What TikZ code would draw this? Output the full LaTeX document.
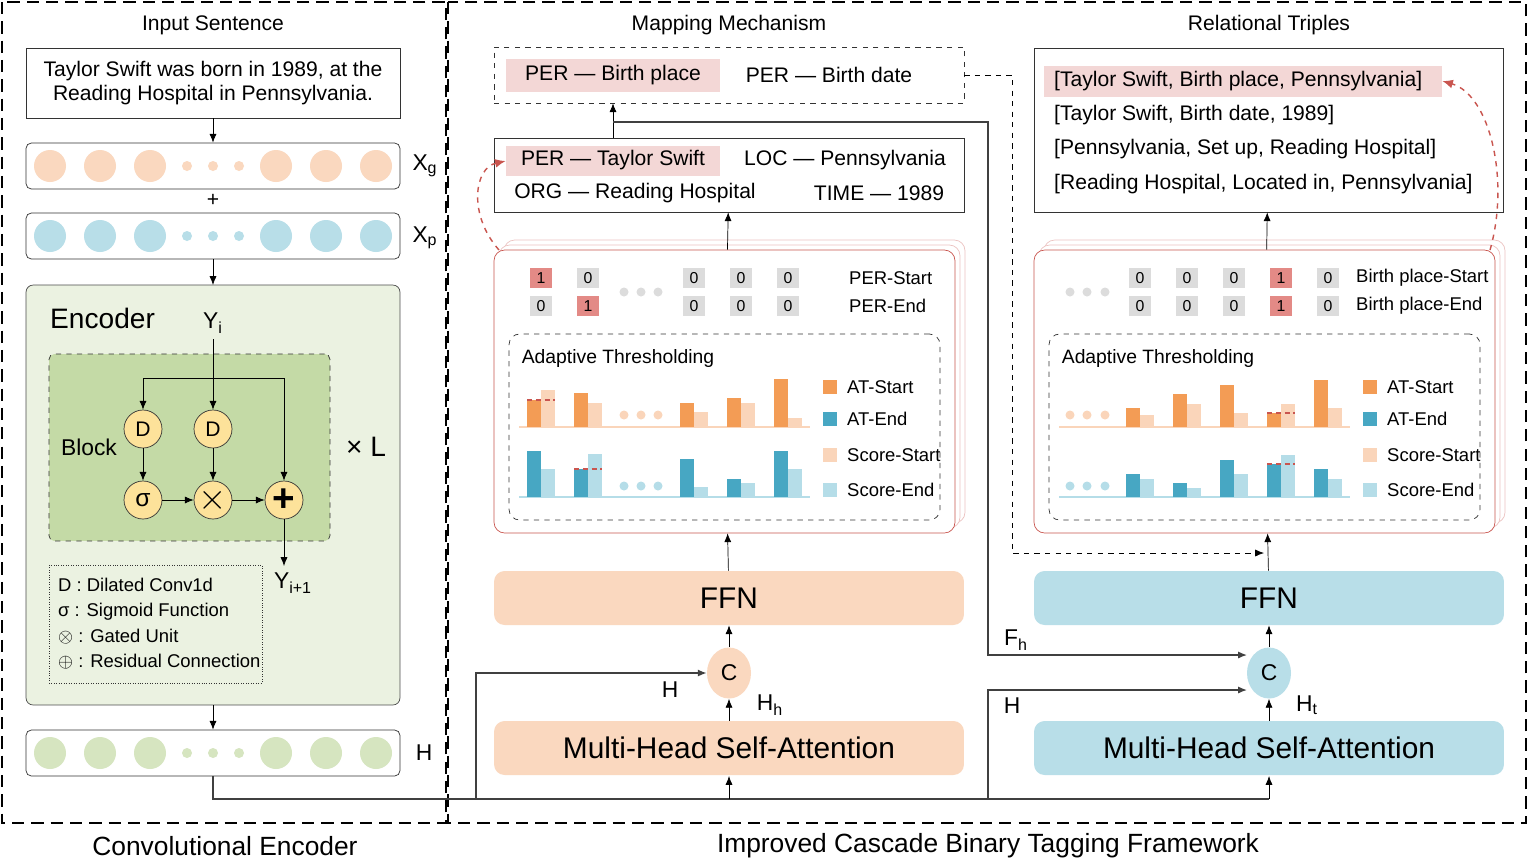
\documentclass[tikz,border=0pt]{standalone}
\usepackage{fontspec}
\setmainfont{Liberation Sans}
\usepackage{tikz}
\usetikzlibrary{positioning,arrows.meta,shapes.geometric}

\definecolor{peach}{HTML}{FAD8BF}
\definecolor{skyb}{HTML}{B8DEE8}
\definecolor{leaf}{HTML}{D6E5C0}
\definecolor{encbg}{HTML}{EBF2E1}
\definecolor{blockbg}{HTML}{C4DAA6}
\definecolor{gold}{HTML}{FDE29A}
\definecolor{redd}{HTML}{C9554F}
\definecolor{pinkhl}{HTML}{F3D7D6}
\definecolor{tagg}{HTML}{DCDCDC}
\definecolor{tagr}{HTML}{E38A86}
\definecolor{ats}{HTML}{F39C55}
\definecolor{sss}{HTML}{FAD5BA}
\definecolor{ate}{HTML}{47A7C3}
\definecolor{sse}{HTML}{B5DDE8}

\newcommand{\fsz}[1]{\fontsize{#1}{#1}\selectfont}

\tikzset{
  arr/.style={-{Latex[length=5pt,width=4pt]},thin},
  frame/.style={draw=black,line width=1.3pt,dash pattern=on 7pt off 4pt},
  box/.style={draw=black!80,thin,fill=white,inner sep=0pt},
  seq/.style={draw=black!80,thin,rounded corners=3pt,minimum width=7.48cm,minimum height=0.92cm},
  op/.style={circle,draw=black!80,fill=gold,minimum size=0.76cm,inner sep=0pt,font=\fsz{12}},
  tag/.style={fill=tagg,minimum width=0.44cm,minimum height=0.4cm,inner sep=0pt,font=\fsz{9}},
  hl/.style={fill=pinkhl,inner sep=0pt},
  big/.style={rounded corners=6pt,inner sep=0pt,minimum width=9.4cm,minimum height=1.08cm,font=\fsz{17}},
  stk/.style={draw=redd,rounded corners=6pt,fill=white,minimum width=9.22cm,minimum height=5.66cm,inner sep=0pt},
  ghost/.style={draw=redd!35,rounded corners=6pt,fill=white,minimum width=9.22cm,minimum height=5.66cm},
  atbox/.style={draw=black!80,dashed,rounded corners=6pt,minimum width=8.62cm,minimum height=3.72cm},
  lg/.style={anchor=west,font=\fsz{10.5}},
  txt/.style={font=\fsz{12}},
}

\begin{document}
\begin{tikzpicture}[x=0.02cm,y=-0.02cm]
  \useasboundingbox[fill=white] (0,0) rectangle (1530,863);

  % Frames and titles
  \draw[frame] (2,2) rectangle (446,823);
  \draw[frame] (448,2) rectangle (1526,823);
  \node[font=\fsz{12}] at (213,25) {Input Sentence};
  \node[font=\fsz{12}] at (729,25) {Mapping Mechanism};
  \node[font=\fsz{12}] at (1269,25) {Relational Triples};
  \node[font=\fsz{15}] at (225,846) {Convolutional Encoder};
  \node[font=\fsz{15}] at (988,846) {Improved Cascade Binary Tagging Framework};

  % Convolutional encoder
  \node[box,minimum width=7.48cm,minimum height=1.4cm,align=center,font=\fsz{12}] (sent) at (213,83)
    {Taylor Swift was born in 1989, at the\\[2pt]Reading Hospital in Pennsylvania.};
  \node[seq] (xg) at (213,166) {};
  \node[seq] (xp) at (213,236) {};
  \node[seq] (hh) at (213,753) {};
  \foreach \s/\c/\y in {xg/peach/166,xp/skyb/236,hh/leaf/753}{
    \foreach \x in {50,100,150,276,326,376} \fill[\c] (\x,\y) circle (16);
    \foreach \x in {187,213,239} \fill[\c] (\x,\y) circle (5);
  }
  \node[font=\fsz{13}] at (425,166) {X\textsubscript{g}};
  \node[font=\fsz{13}] at (425,238) {X\textsubscript{p}};
  \node[font=\fsz{13}] at (424,753) {H};
  \node[font=\fsz{12}] (plus) at (213,200) {+};
  \draw[arr] (sent) -- (xg);
  \draw[arr] (xp) -- (213,285);

  \node[draw=black!70,fill=encbg,rounded corners=4pt,minimum width=7.48cm,minimum height=8.4cm] (enc) at (213,495) {};
  \draw[arr] (enc) -- (hh);
  \node[font=\fsz{16},anchor=west] at (44,318) {Encoder};
  \node[draw=black!80,dashed,fill=blockbg,rounded corners=3pt,minimum width=5.62cm,minimum height=3.74cm] (blk) at (189.5,447.5) {};
  \node[font=\fsz{13}] at (89,447) {Block};
  \node[font=\fsz{13}] at (366,447) {\fsz{16}× L};
  \node[font=\fsz{13}] (yi) at (213,323) {Y\textsubscript{i}};
  \node[op] (d1) at (143,429) {D};
  \node[op] (d2) at (213,429) {D};
  \node[op] (sg) at (143,500) {\fsz{14}σ};
  \node[op] (tm) at (213,500) {\fsz{20}$\times$};
  \node[op] (pl) at (284,500) {\fsz{22}\bfseries +};
  \coordinate (br) at (213,378);
  \coordinate (ye) at (284,566);
  \draw[arr] (yi) -- (d2);
  \draw[arr] (br) -| (d1);
  \draw[arr] (br) -| (pl);
  \draw[arr] (d1) -- (sg);
  \draw[arr] (d2) -- (tm);
  \draw[arr] (sg) -- (tm);
  \draw[arr] (tm) -- (pl);
  \draw[arr] (pl) -- (ye);
  \node[font=\fsz{13}] at (293,583) {Y\textsubscript{i+1}};
  \node[draw=black!80,densely dotted,minimum width=4.26cm,minimum height=2.36cm] (leg) at (155.5,624) {};
  \foreach \y/\t in {585/{D : Dilated Conv1d},612/{σ : Sigmoid Function},637/{$\otimes$ : Gated Unit},662/{$\oplus$ : Residual Connection}}
    \node[anchor=west,font=\fsz{10.5}] at (52,\y) {\t};

  % Shared H path
  \coordinate (hb) at (213,799);
  \coordinate (ha) at (729,799);
  \coordinate (hc) at (1269,799);
  \draw[thick,black!75] (hh) -- (hb) -- (hc);
  \draw[arr] (ha) -- (729,776);
  \draw[arr] (hc) -- (1269,776);

  % Head entity branch
  \node[big,fill=peach] (mhA) at (729,748) {Multi-Head Self-Attention};
  \node[big,fill=peach] (ffA) at (729,598) {FFN};
  \node[ellipse,fill=peach,minimum width=0.88cm,minimum height=1.02cm,inner sep=0pt,font=\fsz{13}] (cA) at (729,673) {C};
  \draw[arr] (mhA) -- (cA);
  \draw[arr] (cA) -- (ffA);
  \draw[arr,thick,black!75] (476,799) |- (cA.west);
  \node[font=\fsz{13}] at (670,690) {H};
  \node[font=\fsz{13}] at (770,705) {H\textsubscript{h}};

  \node[ghost] at (734.5,381.5) {};
  \node[ghost] at (729.5,386.5) {};
  \node[stk] (stA) at (724.5,391.5) {};
  \draw[arr] (ffA) -- (stA);
  \node[atbox] (atA) at (724.5,427) {};
  \node[font=\fsz{11}] at (618,358) {Adaptive Thresholding};

  \node[box,minimum width=9.4cm,minimum height=1.48cm] (ent) at (729,175) {};
  \node[hl,minimum width=4.28cm,minimum height=0.6cm] (ts) at (613,161) {};
  \node[txt] at (613,160) {PER \textemdash{} Taylor Swift};
  \node[txt] at (845,160) {LOC \textemdash{} Pennsylvania};
  \node[txt] at (635,193) {ORG \textemdash{} Reading Hospital};
  \node[txt] at (879,193) {TIME \textemdash{} 1989};
  \draw[arr] (stA) -- (ent);
  \node[box,dashed,minimum width=9.4cm,minimum height=1.12cm] (map) at (729,75) {};
  \node[hl,minimum width=4.28cm,minimum height=0.66cm] (bp) at (613,75) {};
  \node[txt] at (613,75) {PER \textemdash{} Birth place};
  \node[txt] at (829,75) {PER \textemdash{} Birth date};
  \draw[arr] (613,138) -- (map.south -| bp);
  \draw[dashed,redd,thick,-{Latex[length=6pt,width=5pt]}] (499,250) .. controls (468,215) and (474,168) .. (ts.west);

  % Tail entity branch
  \node[big,fill=skyb] (mhB) at (1269,748) {Multi-Head Self-Attention};
  \node[big,fill=skyb] (ffB) at (1269,598) {FFN};
  \node[ellipse,fill=skyb,minimum width=0.88cm,minimum height=1.02cm,inner sep=0pt,font=\fsz{13}] (cB) at (1269,673) {C};
  \draw[arr] (mhB) -- (cB);
  \draw[arr] (cB) -- (ffB);
  \draw[arr,thick,black!75] (988,799) |- (1247,690);
  \draw[arr,thick,black!75] (613,122) -| (988,655) -- (1247,655);
  \node[font=\fsz{13}] at (1012,706) {H};
  \node[font=\fsz{13}] at (1307,705) {H\textsubscript{t}};
  \node[font=\fsz{13}] at (1016,640) {F\textsubscript{h}};

  \node[ghost] at (1274.5,381.5) {};
  \node[ghost] at (1269.5,386.5) {};
  \node[stk] (stB) at (1264.5,391.5) {};
  \draw[arr] (ffB) -- (stB);
  \draw[arr,dashed] (map.east) -| (1012,553) -- (1264,553);
  \node[atbox] (atB) at (1264.5,427) {};
  \node[font=\fsz{11}] at (1158,358) {Adaptive Thresholding};

  \node[box,minimum width=9.38cm,minimum height=3.28cm] (trip) at (1268.5,130) {};
  \node[hl,minimum width=7.96cm,minimum height=0.62cm] (t1) at (1243,81) {};
  \node[anchor=west,txt] at (1048,81) {[Taylor Swift, Birth place, Pennsylvania]};
  \node[anchor=west,txt] at (1048,115) {[Taylor Swift, Birth date, 1989]};
  \node[anchor=west,txt] at (1048,149) {[Pennsylvania, Set up, Reading Hospital]};
  \node[anchor=west,txt] at (1048,184) {[Reading Hospital, Located in, Pennsylvania]};
  \draw[arr] (stB) -- (trip);
  \draw[dashed,redd,thick,-{Latex[length=6pt,width=5pt]}] (1490,250) .. controls (1510,180) and (1490,95) .. (t1.east);

  % Tags
  \foreach \x/\a/\p/\b/\q in {541/tagr/1/tagg/0,588/tagg/0/tagr/1,694/tagg/0/tagg/0,741/tagg/0/tagg/0,788/tagg/0/tagg/0,
      1140/tagg/0/tagg/0,1187/tagg/0/tagg/0,1234/tagg/0/tagg/0,1281/tagr/1/tagr/1,1328/tagg/0/tagg/0}{
    \node[tag,fill=\a] at (\x,278) {\p};
    \node[tag,fill=\b] at (\x,306) {\q};
  }
  \foreach \x in {624,641,658,1070,1087,1105} \fill[tagg] (\x,292) circle (4.5);
  \node[lg] at (843,278) {PER-Start};
  \node[lg] at (843,306) {PER-End};
  \node[lg] at (1350,278) {Birth place-Start};
  \node[lg] at (1350,306) {Birth place-End};

  % Bars
  \foreach \o in {0,540}{
    \draw[sss,thick] (519+\o,427) -- (810+\o,427);
    \draw[sse,thick] (519+\o,497) -- (810+\o,497);
    \foreach \y/\t/\c in {387/AT-Start/ats,419/AT-End/ate,455/Score-Start/sss,490/Score-End/sse}{
      \fill[\c] (823+\o,\y-7) rectangle ++(14,14);
      \node[lg] at (841+\o,\y) {\t};
    }
  }
  \foreach \x in {624,641,658,1070,1087,1105} {\fill[sss] (\x,415) circle (4.5); \fill[sse] (\x,486) circle (4.5);}
  \foreach \x/\a/\b/\c/\d in {527/27/37/46/28,574/34/24/28/43,680/24/15/38/10,727/29/24/18/14,774/48/9/46/28,
      1126/19/12/23/18,1173/33/23/14/9,1220/42/14/37/23,1267/14/23/33/42,1314/47/19/28/18}{
    \fill[ats] (\x,427) rectangle ++(14,-\a);
    \fill[sss] (\x+14,427) rectangle ++(14,-\b);
    \fill[ate] (\x,497) rectangle ++(14,-\c);
    \fill[sse] (\x+14,497) rectangle ++(14,-\d);
  }
  \draw[redd,densely dashed,thick] (527,400) -- (555,400);
  \draw[redd,densely dashed,thick] (574,469) -- (602,469);
  \draw[redd,densely dashed,thick] (1267,413) -- (1295,413);
  \draw[redd,densely dashed,thick] (1267,464) -- (1295,464);
\end{tikzpicture}
\end{document}
